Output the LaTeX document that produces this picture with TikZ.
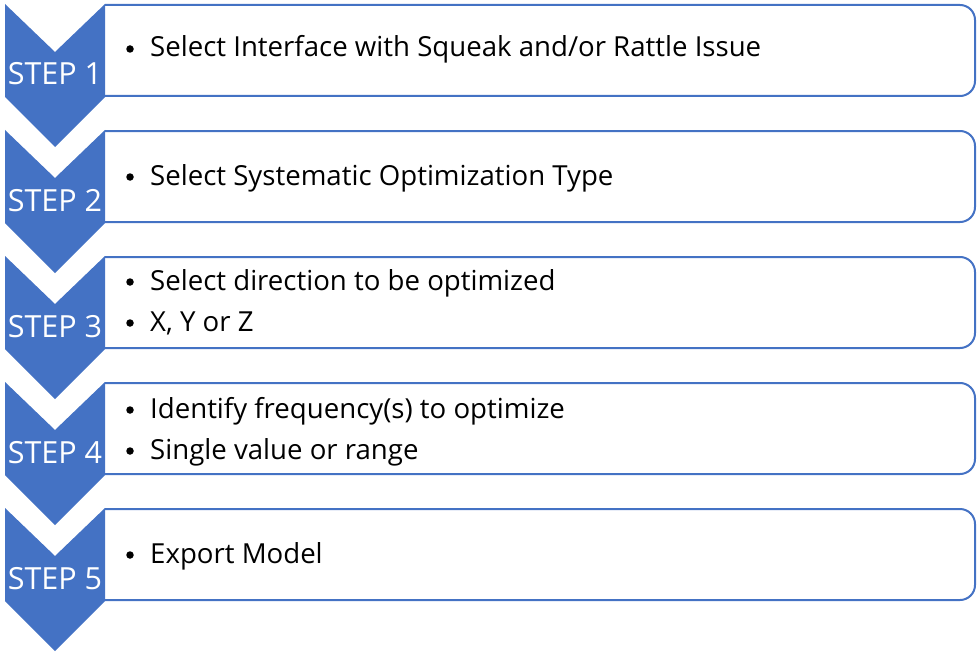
\documentclass[tikz,border=0pt]{standalone}
\usepackage{fontspec}
\setmainfont{Open Sans}
\definecolor{ofblue}{HTML}{4472C4}
\tikzset{
  chev/.style={fill=ofblue, draw=none},
  stepbox/.style={draw=ofblue, line width=2pt, rounded corners=15pt},
  steplabel/.style={text=white, font=\fontsize{30.5}{30.5}\selectfont, anchor=base, inner sep=0pt},
  bul/.style={circle, fill=black, inner sep=0pt, minimum size=7.5pt},
  item/.style={font=\fontsize{27.6}{27.6}\selectfont, anchor=base west, inner sep=0pt},
}
\begin{document}
\begin{tikzpicture}[x=1pt,y=-1pt]
\useasboundingbox (0,0) rectangle (979,658);
\foreach \t/\n in {4/1,130/2,256/3,382/4,508/5}{
  \draw[stepbox] (105,\t+1) -- (975,\t+1) -- (975,\t+92) -- (105,\t+92);
  \fill[chev] (5,\t) -- (55,\t+48) -- (105,\t) -- (105,\t+93) -- (55,\t+143) -- (5,\t+93) -- cycle;
  \node[steplabel] (s\n) at (55,\t+81) {STEP \n};
}
% step 1
\node[bul] (b1) at (130,57-8) {};
\node[item] (t1) at (150,57) {Select Interface with Squeak and/or Rattle Issue};
% step 2
\node[bul] (b2) at (130,185-8) {};
\node[item] (t2) at (150,185) {Select Systematic Optimization Type};
% step 3
\node[bul] (b3a) at (130,290-8) {};
\node[item] (t3a) at (150,290) {Select direction to be optimized};
\node[bul] (b3b) at (130,331-8) {};
\node[item] (t3b) at (150,331) {X, Y or Z};
% step 4
\node[bul] (b4a) at (130,418-8) {};
\node[item] (t4a) at (150,418) {Identify frequency(s) to optimize};
\node[bul] (b4b) at (130,459-8) {};
\node[item] (t4b) at (150,459) {Single value or range};
% step 5
\node[bul] (b5) at (130,563-8) {};
\node[item] (t5) at (150,563) {Export Model};
\end{tikzpicture}
\end{document}
